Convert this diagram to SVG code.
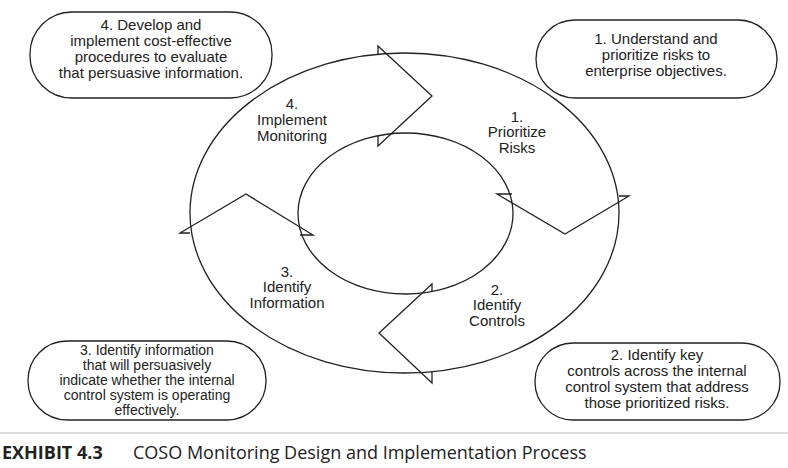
<svg xmlns="http://www.w3.org/2000/svg" width="788" height="468" viewBox="0 0 788 468">
<style>
.s{fill:none;stroke:#222;stroke-width:1.3}
.b{fill:#fff;stroke:#222;stroke-width:1.3}
text{font-family:"Liberation Sans",Arial,sans-serif;font-size:15px;fill:#222;text-anchor:middle}
.c{font-family:"Open Sans","Liberation Sans",sans-serif;font-size:18px;text-anchor:start}
.n{font-size:14px}
</style>
<rect width="788" height="468" fill="#fff"/>
<line x1="0" y1="433" x2="788" y2="433" stroke="#ddd" stroke-width="2"/>
<g id="cycle">
<ellipse class="s" cx="404.5" cy="213" rx="214.5" ry="160"/>
<ellipse class="s" cx="405.5" cy="213.5" rx="107.5" ry="80.5"/>
</g>
<g id="connectors">
<polyline class="s" points="378,54 378,46 432,96 378,146 378,136"/>
<polyline class="s" points="619,196 629,196 565,234 497,194 512,194"/>
<polyline class="s" points="432,292 432,284 379,333 432,383 432,371"/>
<polyline class="s" points="190,233 180,233 246,194 313,235 300,235"/>
</g>
<g id="step4"><text x="292" y="109">4.</text><text x="292" y="125">Implement</text><text x="292" y="141">Monitoring</text></g>
<g id="step1"><text x="517" y="122">1.</text><text x="517" y="137">Prioritize</text><text x="517" y="153">Risks</text></g>
<g id="step2"><text x="497" y="295">2.</text><text x="497" y="310">Identify</text><text x="497" y="326">Controls</text></g>
<g id="step3"><text x="287" y="277">3.</text><text x="287" y="292">Identify</text><text x="287" y="308">Information</text></g>
<g id="note4"><rect class="b" x="30" y="12" width="242" height="86" rx="42"/>
<text x="151" y="30">4. Develop and</text><text x="151" y="46">implement cost-effective</text><text x="151" y="62">procedures to evaluate</text><text x="151" y="78">that persuasive information.</text></g>
<g id="note1"><rect class="b" x="536" y="20" width="241" height="78" rx="39"/>
<text x="656" y="44">1. Understand and</text><text x="656" y="60">prioritize risks to</text><text x="656" y="76">enterprise objectives.</text></g>
<g id="note3"><rect class="b" x="28" y="341" width="238" height="79" rx="39"/>
<text class="n" x="147" y="355">3. Identify information</text><text class="n" x="147" y="370">that will persuasively</text><text class="n" x="147" y="385">indicate whether the internal</text><text class="n" x="147" y="400">control system is operating</text><text class="n" x="147" y="415">effectively.</text></g>
<g id="note2"><rect class="b" x="535" y="343" width="245" height="77" rx="38"/>
<text x="657" y="360">2. Identify key</text><text x="657" y="376">controls across the internal</text><text x="657" y="392">control system that address</text><text x="657" y="408">those prioritized risks.</text></g>
<text class="c" x="2" y="459" font-weight="bold" font-size="17">EXHIBIT 4.3</text>
<text class="c" x="133" y="459">COSO Monitoring Design and Implementation Process</text>
</svg>
